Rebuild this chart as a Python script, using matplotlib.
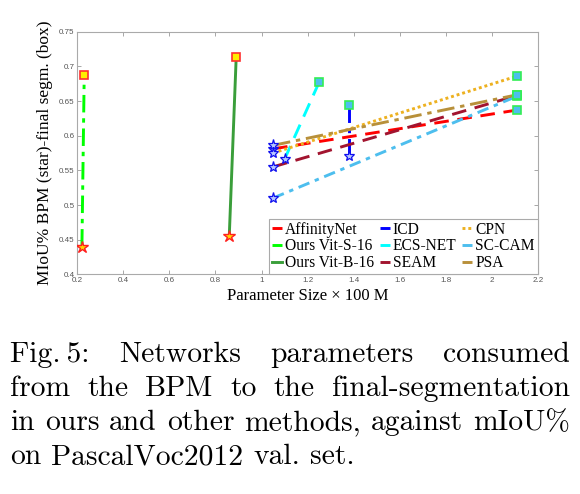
import matplotlib
matplotlib.use('Agg')
import matplotlib.pyplot as plt

# methods, parameter size (x100M) and mIoU at BPM (star) and final segmentation (box)
methods = ['AffinityNet', 'Ours Vit-S-16', 'Ours Vit-B-16', 'ICD', 'ECS-NET',
           'SEAM', 'CPN', 'SC-CAM', 'PSA']
size_bpm = [1.05, 0.22, 0.86, 1.38, 1.10, 1.05, 1.05, 1.05, 1.05]
size_final = [2.11, 0.23, 0.89, 1.38, 1.25, 2.11, 2.11, 2.11, 2.11]
miou_bpm = [0.581, 0.440, 0.456, 0.571, 0.566, 0.555, 0.575, 0.510, 0.586]
miou_final = [0.637, 0.688, 0.713, 0.644, 0.677, 0.658, 0.686, 0.657, 0.659]

colores = ['#ff0000', '#00ff00', '#3a9e3a', '#0000ff', '#00ffff',
           '#a2142f', '#edb120', '#4dbeee', '#b8903a']
estilos = [(0, (5, 3)), (0, (6, 2, 1.5, 2)), '-', (0, (6, 2, 1.5, 2)), (0, (5, 3)),
           (0, (5, 3)), (0, (1, 1)), (0, (4, 2, 1.5, 2)), (0, (6, 2, 1.5, 2))]
ours = [False, True, True, False, False, False, False, False, False]

caption = ['Fig.\u20095: Networks parameters consumed',
           'from the BPM to the final-segmentation',
           'in ours and other methods, against mIoU%',
           'on PascalVoc2012 val. set.']

fig = plt.figure(figsize=(5.8, 4.94), dpi=100)
ax = fig.add_axes([0.1333, 0.4447, 0.794, 0.4911])

for i in range(len(methods)):
    ax.plot([size_bpm[i], size_final[i]], [miou_bpm[i], miou_final[i]],
            color=colores[i], linestyle=estilos[i], linewidth=2.1,
            label=methods[i], zorder=2)
    if ours[i]:
        ax.plot(size_bpm[i], miou_bpm[i], marker='*', markersize=9,
                markerfacecolor='#ffd700', markeredgecolor='#ff2020',
                markeredgewidth=1.0, linestyle='none', zorder=3)
        ax.plot(size_final[i], miou_final[i], marker='s', markersize=6,
                markerfacecolor='#ffee00', markeredgecolor='#ff3030',
                markeredgewidth=1.2, linestyle='none', zorder=3)
    else:
        ax.plot(size_bpm[i], miou_bpm[i], marker='*', markersize=8,
                markerfacecolor='#b8c8ff', markeredgecolor='#1010ee',
                markeredgewidth=0.9, linestyle='none', zorder=3)
        ax.plot(size_final[i], miou_final[i], marker='s', markersize=5.3,
                markerfacecolor='#4dbeee', markeredgecolor='#33ee55',
                markeredgewidth=1.2, linestyle='none', zorder=3)

ax.set_xlim(0.2, 2.2)
ax.set_ylim(0.4, 0.75)
ax.set_xticks([0.2, 0.4, 0.6, 0.8, 1, 1.2, 1.4, 1.6, 1.8, 2, 2.2])
ax.set_xticklabels(['0.2', '0.4', '0.6', '0.8', '1', '1.2', '1.4', '1.6', '1.8', '2', '2.2'],
                   family='Liberation Sans')
ax.set_yticks([0.4, 0.45, 0.5, 0.55, 0.6, 0.65, 0.7, 0.75])
ax.set_yticklabels(['0.4', '0.45', '0.5', '0.55', '0.6', '0.65', '0.7', '0.75'],
                   family='Liberation Sans')
ax.tick_params(direction='in', length=3, width=0.6, colors='#999999',
               labelcolor='#555555', labelsize=5.8, top=True, right=True, pad=2)
for s in ax.spines.values():
    s.set_color('#aaaaaa')
    s.set_linewidth(0.8)

ax.set_xlabel('Parameter Size × 100 M', family='Liberation Serif', fontsize=12, labelpad=3)
ax.set_ylabel('MIoU% BPM (star)-final segm. (box)', family='Liberation Serif',
              fontsize=12.5, labelpad=4)

leg = ax.legend(ncol=3, loc='lower right', borderaxespad=0, fancybox=False,
                prop={'family': 'Liberation Serif', 'size': 11.2},
                handlelength=0.65, handletextpad=0.2, columnspacing=0.35,
                labelspacing=0.05, borderpad=0.2, framealpha=1)
leg.get_frame().set_edgecolor('#aaaaaa')
leg.get_frame().set_linewidth(0.8)

# caption, justified like the paper
cap_font = ['cmr10', 'DejaVu Serif']
fig.canvas.draw()
r = fig.canvas.get_renderer()

def ancho(s, fs):
    t = fig.text(0, 0, s, fontsize=fs, family=cap_font)
    w = t.get_window_extent(r).width
    t.remove()
    return w

x0, x1 = 10, 570
fs = 20 * 560 / ancho(caption[2], 20)
baselines = [362, 396, 430, 464]
for k, linea in enumerate(caption):
    palabras = linea.split(' ')
    anchos = [ancho(p, fs) for p in palabras]
    if k < len(caption) - 1:
        hueco = (x1 - x0 - sum(anchos)) / (len(palabras) - 1)
    else:
        hueco = ancho('a a', fs) - 2 * ancho('a', fs)
    x = x0
    for p, w in zip(palabras, anchos):
        fig.text(x / 580, 1 - baselines[k] / 494, p, fontsize=fs, family=cap_font,
                 va='baseline', ha='left')
        x += w + hueco

fig.savefig('out.png', dpi=100)
